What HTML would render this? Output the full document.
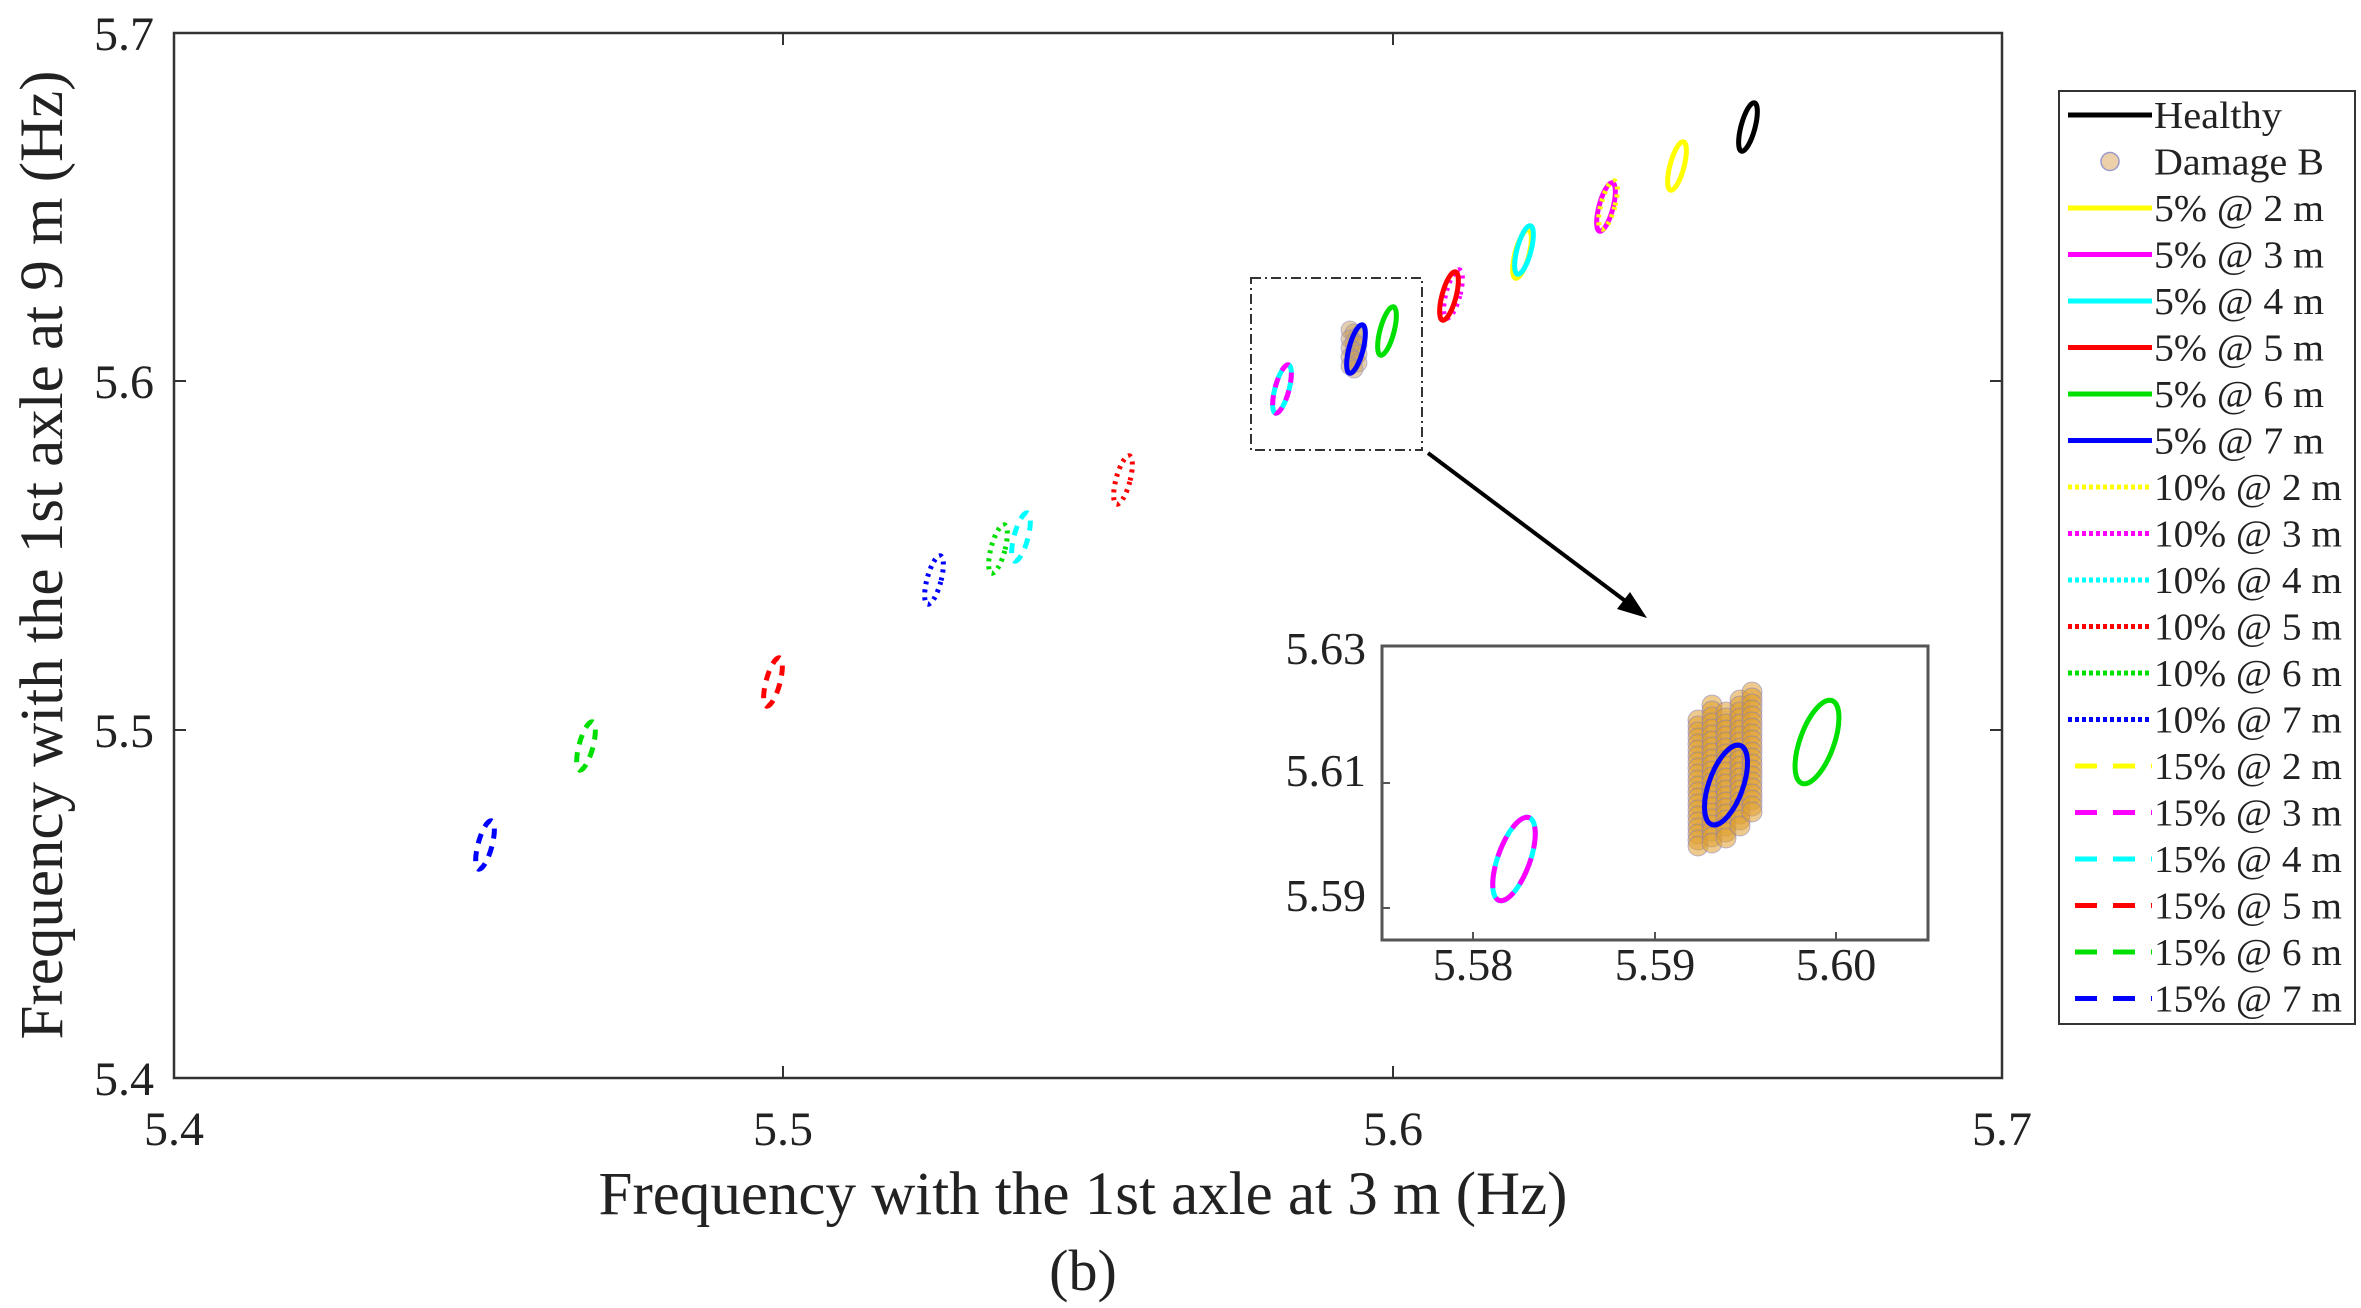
<!DOCTYPE html>
<html><head><meta charset="utf-8"><style>
html,body{margin:0;padding:0;background:#fff;}
svg{display:block;font-family:"Liberation Serif",serif;}
</style></head><body>
<svg id="s" width="2361" height="1308" viewBox="0 0 2361 1308" xmlns="http://www.w3.org/2000/svg">
<rect width="2361" height="1308" fill="#fff"/>
<rect x="174" y="33" width="1828" height="1045" fill="none" stroke="#333" stroke-width="2.5"/>
<g stroke="#333" stroke-width="2">
<line x1="783" y1="1078" x2="783" y2="1066"/><line x1="1393" y1="1078" x2="1393" y2="1066"/>
<line x1="783" y1="33" x2="783" y2="45"/><line x1="1393" y1="33" x2="1393" y2="45"/>
<line x1="174" y1="381" x2="186" y2="381"/><line x1="174" y1="730" x2="186" y2="730"/>
<line x1="2002" y1="381" x2="1990" y2="381"/><line x1="2002" y1="730" x2="1990" y2="730"/>
</g>
<g font-size="48" fill="#222" text-anchor="middle">
<text x="174" y="1145">5.4</text><text x="783" y="1145">5.5</text><text x="1393" y="1145">5.6</text><text x="2002" y="1145">5.7</text>
</g>
<g font-size="48" fill="#222" text-anchor="end">
<text x="154" y="50">5.7</text><text x="154" y="398">5.6</text><text x="154" y="747">5.5</text><text x="154" y="1095">5.4</text>
</g>
<text x="1083" y="1214" font-size="61" text-anchor="middle" fill="#222">Frequency with the 1st axle at 3 m (Hz)</text>
<text x="1083" y="1290" font-size="58" text-anchor="middle" fill="#222">(b)</text>
<text transform="translate(62,555) rotate(-90)" font-size="61" text-anchor="middle" fill="#222">Frequency with the 1st axle at 9 m (Hz)</text>

<g id="ell" fill="none" stroke-width="5"></g>

<rect x="1251" y="278" width="171" height="172" fill="none" stroke="#333" stroke-width="2" stroke-dasharray="10,4,2,4"/>
<line x1="1428" y1="453" x2="1632" y2="606" stroke="#000" stroke-width="4"/>
<polygon points="1647,618 1617,609 1630,592" fill="#000"/>

<rect x="1382" y="646" width="546" height="294" fill="#fff" stroke="#555" stroke-width="3"/>
<g stroke="#555" stroke-width="2">
<line x1="1473" y1="940" x2="1473" y2="932"/><line x1="1655" y1="940" x2="1655" y2="932"/><line x1="1836" y1="940" x2="1836" y2="932"/>
<line x1="1382" y1="783" x2="1390" y2="783"/><line x1="1382" y1="908" x2="1390" y2="908"/>
</g>
<g font-size="46" fill="#222" text-anchor="middle">
<text x="1473" y="980">5.58</text><text x="1655" y="980">5.59</text><text x="1836" y="980">5.60</text>
</g>
<g font-size="46" fill="#222" text-anchor="end">
<text x="1366" y="664">5.63</text><text x="1366" y="786">5.61</text><text x="1366" y="911">5.59</text>
</g>
<g id="dmg"></g>
<ellipse cx="1726" cy="785" rx="17" ry="42" transform="rotate(20 1726 785)" fill="none" stroke="#0000ff" stroke-width="5"/>
<ellipse cx="1817" cy="742" rx="17" ry="44" transform="rotate(20 1817 742)" fill="none" stroke="#00e000" stroke-width="5"/>
<ellipse cx="1514" cy="859" rx="16" ry="44" transform="rotate(20 1514 859)" fill="none" stroke="#00ffff" stroke-width="5"/>
<ellipse cx="1514" cy="859" rx="16" ry="44" transform="rotate(20 1514 859)" fill="none" stroke="#ff00ff" stroke-width="5" stroke-dasharray="22,10"/>

<rect x="2059" y="91" width="296" height="933" fill="#fff" stroke="#333" stroke-width="2"/>
<g id="leg" font-size="38" fill="#222"></g>
</svg>
<script>
var NS="http://www.w3.org/2000/svg";
function el(p,t,a,txt){var e=document.createElementNS(NS,t);for(var k in a)e.setAttribute(k,a[k]);if(txt)e.textContent=txt;p.appendChild(e);return e;}
var E=document.getElementById('ell');
var solid="",dot="3,5",dash="10,8";
var L=[
[1748,127,"#000",solid],[1677,166,"#ffff00",solid],
[1606,207,"#ff00ff",solid],[1608,205,"#ffff00",dot],
[1522,254,"#ffff00",solid],[1524,250,"#00ffff",solid],
[1453,294,"#ff00ff",dot],[1449,296,"#ff0000",solid],
[1387,331,"#00e000",solid],
[1282,389,"#00ffff",solid],[1282,389,"#ff00ff",dash],
[1123,480,"#ff0000",dot],
[1021,537,"#00ffff",dash],[998,549,"#00e000",dot],
[934,580,"#0000ff",dot],[773,682,"#ff0000",dash],[586,746,"#00e000",dash],[485,845,"#0000ff",dash]];
for(var i=0;i<14;i++){el(E,'circle',{cx:1350+(i%3)*4,cy:330+i*3,r:9,fill:'#c9a060','fill-opacity':0.5,stroke:'#8888cc','stroke-opacity':0.5,'stroke-width':1});}
L.forEach(function(l){var a={cx:l[0],cy:l[1],rx:7,ry:25,transform:'rotate(15 '+l[0]+' '+l[1]+')',stroke:l[2]};if(l[3])a['stroke-dasharray']=l[3];el(E,'ellipse',a);});
el(E,'ellipse',{cx:1356,cy:349,rx:7,ry:25,transform:'rotate(15 1356 349)',stroke:'#0000ff'});
var D=document.getElementById('dmg');
var cols=[[1698,720,848],[1712,705,848],[1726,712,840],[1740,700,830],[1752,692,812]];
cols.forEach(function(c){for(var y=c[1];y<=c[2];y+=6){el(D,'circle',{cx:c[0],cy:y,r:10,fill:'#e0a030','fill-opacity':0.55,stroke:'#7777cc','stroke-opacity':0.5,'stroke-width':1});}});
var G=document.getElementById('leg');
var cl=["#ffff00","#ff00ff","#00ffff","#ff0000","#00e000","#0000ff"];
var items=[["Healthy","#000",solid],["Damage B","",null]];
[["5%",solid],["10%",dot],["15%",dash]].forEach(function(p){for(var i=0;i<6;i++)items.push([p[0]+" @ "+(i+2)+" m",cl[i],p[1]]);});
items.forEach(function(it,i){var y=115+i*46.5;
 if(it[2]===null){el(G,'circle',{cx:2110,cy:y,r:9,fill:'#e0b070','fill-opacity':0.6,stroke:'#9999cc','stroke-width':1.5});}
 else{var a={x1:2068,y1:y,x2:2152,y2:y,stroke:it[1],'stroke-width':5};if(it[2]==dot)a['stroke-dasharray']="4,3";if(it[2]==dash){a['stroke-dasharray']="22,16";a.x1=2075;}el(G,'line',a);}
 el(G,'text',{x:2154,y:y+13,textLength:it[0].length>8?188:(it[0].length>7?170:128),lengthAdjust:'spacingAndGlyphs'},it[0]);});
</script>
</body></html>
